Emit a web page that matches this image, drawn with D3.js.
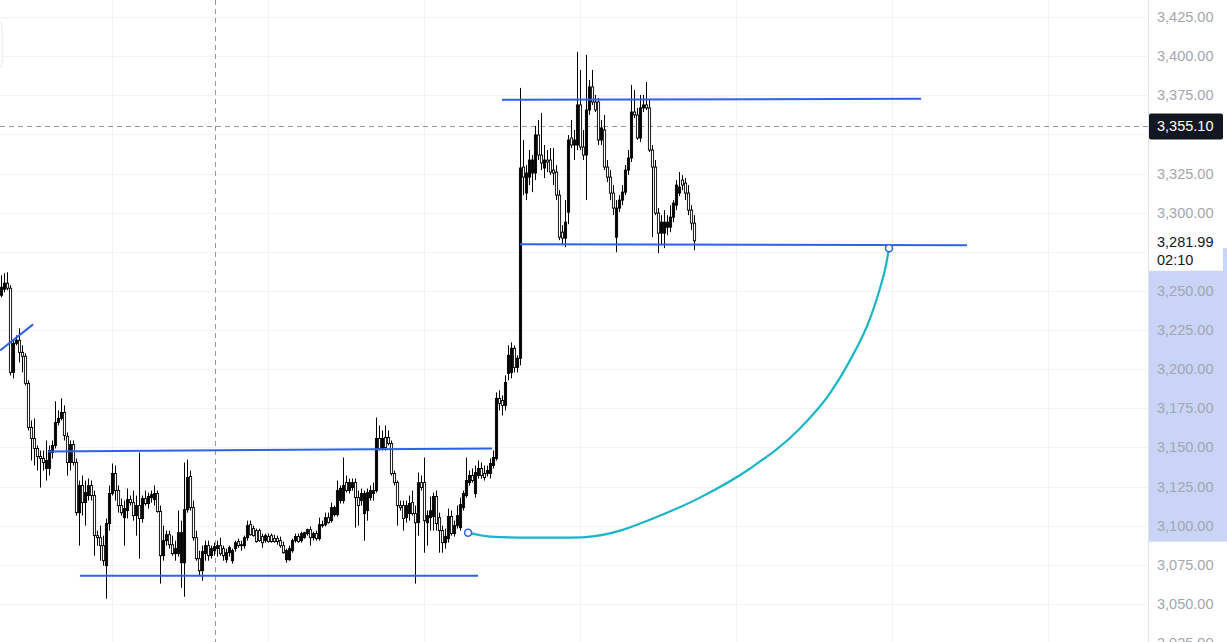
<!DOCTYPE html>
<html>
<head>
<meta charset="utf-8">
<script src="https://cdn.jsdelivr.net/npm/d3@7"></script>
<style>
  html, body { margin: 0; padding: 0; background: #fff; }
  svg { display: block; font-family: "Liberation Sans", Arial, sans-serif; }
</style>
</head>
<body>
<script>
// candles: [open, high, low, close]
const candles = [
  [3247.2,3260.0,3245.9,3252.3],[3251.0,3261.3,3249.1,3254.9],[3254.9,3261.9,3250.4,3251.7],[3251.7,3253.6,3196.0,3197.9],
  [3197.9,3218.4,3194.1,3216.5],[3216.5,3221.6,3215.2,3218.4],[3218.4,3226.1,3204.3,3210.7],[3210.7,3215.2,3197.9,3208.2],
  [3208.2,3210.1,3189.6,3190.9],[3190.9,3192.8,3160.8,3162.7],[3162.7,3167.2,3141.6,3155.7],[3155.7,3168.5,3138.4,3149.3],
  [3149.3,3151.2,3135.2,3144.2],[3144.2,3148.0,3124.3,3142.9],[3142.9,3148.0,3135.2,3140.3],[3136.5,3154.4,3128.8,3141.6],
  [3136.5,3151.2,3132.0,3148.0],[3146.7,3154.4,3142.9,3151.2],[3151.2,3179.4,3149.3,3165.9],[3165.9,3173.6,3164.0,3168.5],
  [3168.5,3181.3,3167.2,3172.3],[3172.3,3176.8,3154.4,3157.6],[3157.0,3159.5,3132.0,3140.3],[3140.3,3154.4,3135.2,3151.8],
  [3151.8,3154.4,3138.4,3140.3],[3140.3,3142.9,3106.4,3108.3],[3108.3,3128.8,3087.2,3125.6],[3125.6,3132.0,3106.4,3114.7],
  [3114.7,3128.8,3100.0,3121.1],[3119.2,3130.1,3116.0,3125.6],[3125.6,3128.8,3116.0,3119.2],[3119.2,3122.4,3080.8,3093.6],
  [3093.6,3096.8,3087.2,3092.3],[3092.3,3100.0,3077.6,3087.2],[3087.2,3093.6,3074.4,3077.6],[3074.4,3104.5,3053.3,3101.3],
  [3101.3,3125.6,3096.8,3120.5],[3120.5,3139.7,3119.2,3133.3],[3133.3,3138.4,3116.0,3122.4],[3122.4,3125.6,3108.3,3112.8],
  [3112.8,3117.3,3106.4,3108.3],[3105.1,3116.0,3087.2,3110.9],[3109.6,3123.7,3104.5,3116.6],[3116.6,3119.2,3112.8,3114.7],
  [3114.7,3122.4,3103.2,3106.4],[3106.4,3119.2,3093.6,3112.8],[3112.8,3146.7,3078.9,3104.5],[3104.5,3119.2,3101.9,3117.3],
  [3117.3,3122.4,3112.8,3114.1],[3114.1,3121.1,3110.9,3118.6],[3117.9,3122.4,3114.7,3119.8],[3116.6,3125.6,3112.8,3120.5],
  [3120.5,3122.4,3108.3,3109.0],[3109.0,3112.8,3062.9,3080.8],[3080.8,3100.0,3077.6,3090.4],[3090.4,3096.8,3087.2,3094.2],
  [3094.2,3096.8,3085.3,3087.8],[3087.8,3093.6,3080.8,3082.1],[3082.1,3090.4,3077.6,3085.3],[3082.1,3109.6,3080.2,3095.5],
  [3076.3,3103.2,3060.3,3095.5],[3076.3,3140.3,3054.6,3110.2],[3110.2,3142.2,3108.3,3130.7],[3131.4,3135.2,3109.6,3111.5],
  [3111.5,3116.0,3090.4,3092.3],[3092.3,3096.8,3077.6,3078.9],[3078.9,3084.0,3068.0,3071.2],[3071.2,3087.2,3064.8,3083.4],
  [3082.1,3090.4,3077.6,3087.2],[3087.2,3090.4,3077.6,3080.8],[3080.8,3087.2,3078.9,3085.3],[3084.0,3089.1,3080.8,3086.6],
  [3085.3,3090.4,3080.2,3087.2],[3087.2,3092.3,3080.8,3082.1],[3085.3,3087.2,3077.6,3080.8],[3078.2,3085.3,3076.3,3082.7],
  [3082.7,3087.2,3080.2,3085.9],[3077.6,3085.3,3075.7,3084.0],[3085.3,3090.4,3083.4,3089.1],[3089.8,3091.7,3085.9,3087.2],
  [3087.2,3090.4,3084.0,3087.8],[3087.2,3093.6,3085.3,3092.3],[3092.3,3103.2,3090.4,3100.0],[3100.6,3103.2,3093.6,3094.2],
  [3098.1,3100.0,3093.0,3093.6],[3096.8,3098.1,3089.1,3089.8],[3096.8,3098.1,3089.8,3090.4],[3093.0,3094.9,3085.9,3089.1],
  [3090.4,3094.9,3089.1,3093.6],[3093.0,3094.9,3089.1,3089.8],[3093.6,3094.9,3089.1,3089.8],[3091.7,3094.2,3089.1,3089.8],
  [3091.7,3093.6,3087.8,3089.8],[3090.4,3093.0,3085.9,3087.2],[3087.2,3089.8,3082.1,3082.7],[3078.2,3085.3,3076.3,3084.0],
  [3078.2,3087.2,3077.6,3085.3],[3084.0,3091.7,3082.7,3090.4],[3090.4,3094.9,3089.1,3093.0],[3093.0,3094.9,3089.1,3089.8],
  [3090.4,3096.1,3089.1,3094.9],[3092.3,3096.1,3091.7,3095.5],[3094.9,3098.1,3093.6,3097.4],[3097.4,3099.4,3087.2,3092.3],
  [3092.3,3096.1,3090.4,3094.9],[3094.9,3096.8,3090.4,3091.7],[3091.7,3105.1,3090.4,3100.6],[3100.0,3103.2,3098.7,3100.6],
  [3100.6,3108.3,3099.4,3105.1],[3105.1,3108.3,3101.3,3101.9],[3103.2,3114.7,3101.9,3111.5],[3107.0,3112.8,3105.8,3111.5],
  [3107.0,3128.8,3105.8,3122.4],[3116.0,3125.6,3114.1,3123.7],[3116.0,3143.5,3114.1,3125.6],[3127.5,3132.0,3121.1,3122.4],
  [3122.4,3130.1,3120.5,3127.5],[3124.3,3130.1,3122.4,3127.5],[3127.5,3130.1,3098.7,3117.9],[3117.9,3122.4,3100.0,3112.8],
  [3116.0,3123.7,3112.8,3120.5],[3107.7,3122.4,3090.4,3120.5],[3109.6,3123.7,3103.2,3121.1],[3117.9,3125.6,3116.0,3122.4],
  [3120.5,3127.5,3116.0,3122.4],[3122.4,3169.1,3121.1,3155.7],[3155.7,3164.0,3148.0,3149.3],[3149.3,3160.8,3148.0,3155.7],
  [3156.3,3164.0,3148.0,3149.9],[3156.3,3160.8,3151.2,3152.5],[3152.5,3154.4,3132.0,3133.3],[3133.3,3135.2,3125.6,3127.5],
  [3127.5,3128.8,3100.0,3112.8],[3112.8,3116.0,3109.6,3111.5],[3112.8,3116.0,3096.8,3104.5],[3105.1,3116.0,3101.9,3112.8],
  [3107.7,3119.2,3103.2,3114.1],[3114.7,3122.4,3106.4,3107.7],[3107.7,3112.8,3062.9,3101.9],[3101.9,3133.9,3093.6,3127.5],
  [3127.5,3132.0,3122.4,3124.3],[3127.5,3143.5,3082.7,3103.2],[3101.9,3109.6,3087.2,3106.4],[3105.1,3118.6,3096.8,3109.6],
  [3105.8,3121.1,3096.8,3118.6],[3118.6,3122.4,3096.8,3101.3],[3105.1,3108.3,3082.7,3096.8],[3096.8,3100.0,3082.7,3089.1],
  [3089.1,3098.1,3085.3,3093.0],[3091.7,3110.9,3089.1,3105.8],[3105.8,3109.6,3093.6,3094.9],[3094.9,3103.2,3093.0,3100.0],
  [3100.0,3112.8,3098.1,3106.4],[3098.7,3117.9,3096.8,3113.4],[3111.5,3122.4,3109.6,3120.5],[3119.2,3143.5,3117.9,3128.8],
  [3127.5,3135.2,3125.6,3132.0],[3132.0,3136.5,3127.5,3128.8],[3120.5,3138.4,3117.9,3133.9],[3132.0,3141.6,3130.1,3136.5],
  [3136.5,3140.3,3130.1,3132.0],[3133.3,3138.4,3128.8,3130.7],[3133.3,3138.4,3131.4,3135.2],[3133.3,3142.9,3130.1,3139.7],
  [3138.4,3148.0,3136.5,3143.5],[3142.9,3185.1,3141.6,3181.3],[3181.3,3186.4,3173.6,3178.1],[3180.0,3183.2,3170.4,3176.8],
  [3176.8,3196.0,3173.6,3191.5],[3197.3,3215.2,3192.8,3208.8],[3197.9,3217.1,3194.1,3213.3],[3213.3,3215.2,3197.9,3201.1],
  [3201.1,3208.8,3197.9,3206.9],[3206.9,3379.7,3202.4,3328.5],[3329.1,3346.4,3311.2,3322.7],[3312.5,3330.4,3308.0,3325.3],
  [3322.7,3340.0,3317.6,3333.6],[3325.3,3336.8,3313.1,3333.6],[3325.3,3355.4,3320.8,3349.6],[3349.6,3359.2,3333.6,3336.8],
  [3336.8,3363.7,3327.2,3331.7],[3328.5,3343.2,3322.1,3333.6],[3333.6,3340.0,3325.9,3332.3],[3333.6,3341.3,3324.0,3325.9],
  [3327.2,3341.3,3317.6,3325.3],[3325.9,3330.4,3308.0,3311.2],[3311.2,3314.4,3282.4,3284.3],[3287.5,3292.0,3279.2,3283.7],
  [3283.7,3308.0,3277.9,3293.9],[3300.3,3349.6,3292.6,3346.4],[3347.7,3359.2,3341.3,3343.2],[3343.2,3352.8,3333.6,3346.4],
  [3343.2,3402.7,3340.0,3368.8],[3368.8,3391.2,3340.0,3341.9],[3341.9,3352.8,3333.6,3336.8],[3336.8,3400.8,3308.0,3365.6],
  [3365.6,3384.8,3362.4,3380.3],[3380.3,3391.2,3368.8,3370.7],[3370.7,3375.2,3364.3,3365.6],[3370.7,3373.3,3343.2,3346.4],
  [3346.4,3359.2,3343.2,3354.1],[3352.8,3362.4,3327.2,3329.1],[3329.1,3333.6,3319.5,3322.7],[3322.7,3327.2,3308.0,3312.5],
  [3312.5,3317.6,3298.4,3302.9],[3284.3,3308.0,3274.7,3302.9],[3302.9,3311.2,3300.3,3308.0],[3308.0,3317.6,3304.8,3313.1],
  [3313.1,3330.4,3311.2,3327.2],[3327.2,3340.0,3324.0,3334.9],[3334.9,3381.6,3332.3,3364.3],[3364.3,3378.4,3360.5,3362.4],
  [3362.4,3366.9,3346.4,3347.7],[3347.7,3375.2,3345.1,3366.9],[3366.9,3375.2,3364.3,3368.8],[3368.8,3383.5,3365.6,3366.9],
  [3366.9,3372.0,3338.7,3340.0],[3340.0,3343.2,3284.3,3329.1],[3329.1,3333.6,3298.4,3299.7],[3299.7,3302.9,3274.1,3286.9],
  [3286.9,3298.4,3279.2,3293.9],[3286.9,3301.6,3277.3,3293.9],[3290.7,3298.4,3285.6,3293.9],[3290.7,3304.8,3287.5,3297.1],
  [3297.1,3308.0,3293.9,3306.1],[3304.8,3320.8,3301.6,3317.6],[3312.5,3325.9,3310.6,3316.3],[3320.8,3324.0,3314.4,3317.6],
  [3318.9,3322.1,3308.0,3312.5],[3312.5,3317.6,3298.4,3301.6],[3301.6,3304.8,3288.8,3293.3],[3293.3,3298.4,3276.0,3281.99]
];

const priceTicks = [3025, 3050, 3075, 3100, 3125, 3150, 3175, 3200, 3225, 3250, 3275, 3300, 3325, 3350, 3375, 3400, 3425];
const timeGrid = [37, 89, 141, 193, 245, 297, 349]; // bar index of vertical grid lines

// drawn trend / level lines: [index0, price0, index1, price1]
const drawnLines = [
  [-0.3, 3212.0, 10.7, 3228.6],
  [15.7, 3147.4, 163.7, 3149.3],
  [26.3, 3068.0, 159.0, 3068.0],
  [167.0, 3372.1, 306.7, 3372.7],
  [173.0, 3279.8, 322.0, 3279.2]
];

// curved path drawing (bar index, price)
const curveIdx   = [155.7, 163.0, 176.3, 189.7, 198.0, 206.3, 216.3, 233.0, 249.7, 266.3, 276.3, 283.0, 289.7, 293.0, 295.0, 296.0];
const curvePrice = [3095.5, 3093.0, 3092.3, 3092.3, 3093.3, 3096.8, 3103.8, 3117.9, 3136.5, 3162.1, 3184.5, 3205.6, 3232.5, 3251.7, 3266.4, 3277.3];

const crossIdx = 71.3, crossPrice = 3355.10;
const lastPrice = 3281.99, countdown = "02:10";

const width = 1227, height = 642, axisX = 1148;

const x = d3.scaleLinear().domain([0, candles.length - 1]).range([1, 694]);
const y = d3.scaleLinear().domain([3025, 3425]).range([643, 17]);
const fmt = d3.format(",.2f");

const svg = d3.select("body").append("svg")
  .attr("width", width)
  .attr("height", height);

svg.append("rect").attr("width", width).attr("height", height).attr("fill", "#fff");

// grid
svg.append("g").selectAll("line").data(priceTicks).join("line")
  .attr("x1", 0).attr("x2", axisX)
  .attr("y1", d => Math.round(y(d)) + 0.5).attr("y2", d => Math.round(y(d)) + 0.5)
  .attr("stroke", "#f2f3f5");

svg.append("g").selectAll("line").data(timeGrid).join("line")
  .attr("x1", d => Math.round(x(d)) + 0.5).attr("x2", d => Math.round(x(d)) + 0.5)
  .attr("y1", 0).attr("y2", height)
  .attr("stroke", "#f2f3f5");

// small toolbar edge top-left
svg.append("rect")
  .attr("x", -8).attr("y", 22).attr("width", 10).attr("height", 46).attr("rx", 4)
  .attr("fill", "#fff").attr("stroke", "#e6e8ec");

// crosshair
svg.append("line")
  .attr("x1", Math.round(x(crossIdx)) + 0.5).attr("x2", Math.round(x(crossIdx)) + 0.5)
  .attr("y1", 0).attr("y2", height)
  .attr("stroke", "#9598a1").attr("stroke-dasharray", "5,4");
svg.append("line")
  .attr("x1", 0).attr("x2", axisX)
  .attr("y1", Math.round(y(crossPrice)) + 0.5).attr("y2", Math.round(y(crossPrice)) + 0.5)
  .attr("stroke", "#9598a1").attr("stroke-dasharray", "5,4");

// candles
const bar = svg.append("g").selectAll("g").data(candles).join("g");

bar.append("line")
  .attr("x1", (d, i) => Math.round(x(i)) + 0.5)
  .attr("x2", (d, i) => Math.round(x(i)) + 0.5)
  .attr("y1", d => y(d[1]))
  .attr("y2", d => y(d[2]))
  .attr("stroke", "#000").attr("stroke-width", 1);

bar.append("rect")
  .attr("x", (d, i) => Math.round(x(i)) - 0.6)
  .attr("width", 2.2)
  .attr("y", d => y(Math.max(d[0], d[3])))
  .attr("height", d => Math.max(0.8, Math.abs(y(d[0]) - y(d[3]))))
  .attr("fill", d => (d[3] >= d[0] ? "#000" : "#fff"))
  .attr("stroke", "#000").attr("stroke-width", 0.9);

// drawings
svg.append("g").selectAll("line").data(drawnLines).join("line")
  .attr("x1", d => x(d[0])).attr("y1", d => y(d[1]))
  .attr("x2", d => x(d[2])).attr("y2", d => y(d[3]))
  .attr("stroke", "#2f62e8").attr("stroke-width", 2);

const curvePts = curveIdx.map((d, i) => [x(d), y(curvePrice[i])]);
svg.append("path")
  .attr("d", d3.line().curve(d3.curveMonotoneX)(curvePts))
  .attr("fill", "none")
  .attr("stroke", "#1bb5c9").attr("stroke-width", 2.2);

const ends = [curvePts[0], curvePts[curvePts.length - 1]];
svg.append("g").selectAll("circle").data(ends).join("circle")
  .attr("cx", d => d[0]).attr("cy", d => d[1]).attr("r", 3.5)
  .attr("fill", "#fff").attr("stroke", "#2f62e8").attr("stroke-width", 1.5);

// price axis
svg.append("line")
  .attr("x1", axisX + 0.5).attr("x2", axisX + 0.5).attr("y1", 0).attr("y2", height)
  .attr("stroke", "#e0e3eb");

const band = d3.extent(curvePrice);
svg.append("rect")
  .attr("x", axisX + 1).attr("width", width - axisX - 1)
  .attr("y", y(band[1])).attr("height", y(band[0]) - y(band[1]) + 4)
  .attr("fill", "#c9d4f7");

// tick labels hidden where the price labels sit
const covered = p => Math.abs(y(p) - y(crossPrice)) < 22 || (y(p) > y(lastPrice) - 12 && y(p) < y(lastPrice) + 36);

svg.append("g").selectAll("text").data(priceTicks.filter(p => !covered(p))).join("text")
  .attr("x", 1157).attr("y", d => y(d) + 5)
  .attr("font-size", 14.5).attr("fill", "#a3a6af")
  .text(d => fmt(d));

// crosshair price label
svg.append("rect")
  .attr("x", axisX + 1).attr("y", y(crossPrice) - 13).attr("width", 74).attr("height", 26).attr("rx", 2)
  .attr("fill", "#131722");
svg.append("text")
  .attr("x", 1157).attr("y", y(crossPrice) + 5)
  .attr("font-size", 14.5).attr("fill", "#fff")
  .text(fmt(crossPrice));

// last price label with countdown
svg.append("rect")
  .attr("x", axisX + 1).attr("y", y(lastPrice) - 8).attr("width", 74).attr("height", 38)
  .attr("fill", "#fff");
svg.append("text")
  .attr("x", 1157).attr("y", y(lastPrice) + 6)
  .attr("font-size", 14.5).attr("fill", "#131722")
  .text(fmt(lastPrice));
svg.append("text")
  .attr("x", 1157).attr("y", y(lastPrice) + 24)
  .attr("font-size", 14.5).attr("fill", "#131722")
  .text(countdown);
</script>
</body>
</html>
